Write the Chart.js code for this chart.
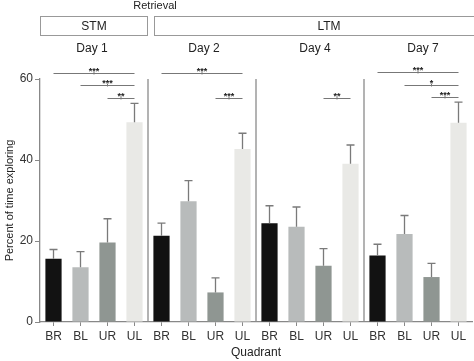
<!DOCTYPE html>
<html>
<head>
<meta charset="utf-8">
<script src="https://cdn.jsdelivr.net/npm/chart.js@4"></script>
<style>
  body { margin: 0; background: #fff; font-family: "Liberation Sans", Arial, sans-serif; color: #222; }
  #wrap { position: relative; width: 474px; height: 361px; overflow: hidden; }
  #myChart { position: absolute; left: 0; top: 0; }
  .lbl { position: absolute; font-size: 12px; transform: translateX(-50%); white-space: nowrap; }
  .box { position: absolute; top: 16px; height: 18px; line-height: 18px; border: 1px solid #999; font-size: 12px; text-align: center; }
</style>
</head>
<body>
<div id="wrap">
  <canvas id="myChart" width="474" height="361"></canvas>
  <div class="lbl" style="left:155px; top:-1px; font-size:11px;">Retrieval</div>
  <div class="box" style="left:40px; width:106px;">STM</div>
  <div class="box" style="left:154px; width:348px;">LTM</div>
  <div id="dias"></div>
</div>
<script>
// datos
const quadrants = ["BR", "BL", "UR", "UL"];
const days = ["Day 1", "Day 2", "Day 4", "Day 7"];
const day1 = [15.6, 13.5, 19.6, 49.3];
const day2 = [21.3, 29.8, 7.3, 42.7];
const day4 = [24.4, 23.5, 13.9, 39.1];
const day7 = [16.4, 21.7, 11.1, 49.2];
const err1 = [2.3, 3.9, 5.9, 4.7];
const err2 = [3.1, 5.1, 3.6, 3.9];
const err4 = [4.3, 4.9, 4.2, 4.6];
const err7 = [2.8, 4.6, 3.4, 5.1];
const yTicks = [0, 20, 40, 60];
// significancia: panel, barra inicial, nivel, texto (siempre termina en UL)
const sigPanel = [0, 0, 0, 1, 1, 2, 3, 3, 3];
const sigFrom = [0, 1, 2, 0, 2, 2, 0, 1, 2];
const sigLevel = [61.5, 58.4, 55.3, 61.5, 55.3, 55.3, 61.7, 58.6, 55.6];
const sigText = ["***", "***", "**", "***", "***", "**", "***", "*", "***"];

const colores = ["#121212", "#b8bbbb", "#8f9692", "#e9e9e6"];

let labels = [];
let valores = [];
let errores = [];
let fondo = [];
[day1, day2, day4, day7].forEach((d, i) => {
  const e = [err1, err2, err4, err7][i];
  d.forEach((v, k) => {
    labels.push(quadrants[k]);
    valores.push(v);
    errores.push(e[k]);
    fondo.push(colores[k]);
  });
});

// etiquetas de dias
const dias = document.querySelector("#dias");
const diaX = [92, 204, 315, 423];
let template = "";
days.forEach((d, i) => {
  template += `<div class="lbl" style="left:${diaX[i]}px; top:41px;">${d}</div>`;
});
dias.innerHTML = template;

const extras = {
  id: "extras",
  afterDatasetsDraw(chart) {
    const ctx = chart.ctx;
    const x = chart.scales.x;
    const y = chart.scales.y;
    ctx.save();
    // barras de error
    ctx.strokeStyle = "#7a7a7a";
    ctx.lineWidth = 1.3;
    valores.forEach((v, i) => {
      const px = x.getPixelForValue(i);
      const top = y.getPixelForValue(v + errores[i]);
      ctx.beginPath();
      ctx.moveTo(px, y.getPixelForValue(v));
      ctx.lineTo(px, top);
      ctx.moveTo(px - 4, top);
      ctx.lineTo(px + 4, top);
      ctx.stroke();
    });
    // divisiones entre paneles
    ctx.strokeStyle = "#8a8a8a";
    ctx.lineWidth = 1.3;
    for (let p = 1; p < 4; p++) {
      const px = (x.getPixelForValue(p * 4 - 1) + x.getPixelForValue(p * 4)) / 2;
      ctx.beginPath();
      ctx.moveTo(px, y.getPixelForValue(60));
      ctx.lineTo(px, y.getPixelForValue(0));
      ctx.stroke();
    }
    // lineas de significancia
    ctx.strokeStyle = "#777";
    ctx.lineWidth = 1;
    ctx.fillStyle = "#222";
    ctx.font = "bold 9px 'Liberation Sans', Arial";
    ctx.textAlign = "center";
    ctx.textBaseline = "bottom";
    sigPanel.forEach((p, i) => {
      const x1 = x.getPixelForValue(p * 4 + sigFrom[i]);
      const x2 = x.getPixelForValue(p * 4 + 3);
      const py = Math.round(y.getPixelForValue(sigLevel[i])) + 0.5;
      const mid = (x1 + x2) / 2;
      ctx.beginPath();
      ctx.moveTo(x1, py);
      ctx.lineTo(x2, py);
      ctx.moveTo(mid, py - 2);
      ctx.lineTo(mid, py + 1);
      ctx.stroke();
      ctx.fillText(sigText[i], mid, py + 3);
    });
    ctx.restore();
  }
};

const myChart = document.getElementById("myChart");
new Chart(myChart, {
  type: "bar",
  data: {
    labels: labels,
    datasets: [{
      data: valores,
      backgroundColor: fondo,
      barPercentage: 0.6,
      categoryPercentage: 1
    }]
  },
  options: {
    responsive: false,
    animation: false,
    layout: { padding: { top: 79, right: 2, left: 0, bottom: 0 } },
    plugins: { legend: { display: false }, tooltip: { enabled: false } },
    scales: {
      x: {
        afterFit: (s) => { s.height = 39; },
        grid: { drawOnChartArea: false, offset: false, tickLength: 4, color: "#888" },
        border: { color: "#888", width: 1.3 },
        ticks: { color: "#333", font: { family: "'Liberation Sans', Arial", size: 12 }, padding: 3, maxRotation: 0, autoSkip: false },
        title: { display: true, text: "Quadrant", color: "#222", font: { family: "'Liberation Sans', Arial", size: 12 }, padding: { top: 0, bottom: 1 } }
      },
      y: {
        min: 0,
        max: 60,
        afterFit: (s) => { s.width = 40; },
        afterBuildTicks: (s) => { s.ticks = yTicks.map((v) => ({ value: v })); },
        grid: { drawOnChartArea: false, tickLength: 5, color: "#888" },
        border: { color: "#888", width: 1.3 },
        ticks: { color: "#333", font: { family: "'Liberation Sans', Arial", size: 12 }, padding: 2 },
        title: { display: true, text: "Percent of time exploring", color: "#222", font: { family: "'Liberation Sans', Arial", size: 11 }, padding: { top: 3, bottom: 0 } }
      }
    }
  },
  plugins: [extras]
});
</script>
</body>
</html>
